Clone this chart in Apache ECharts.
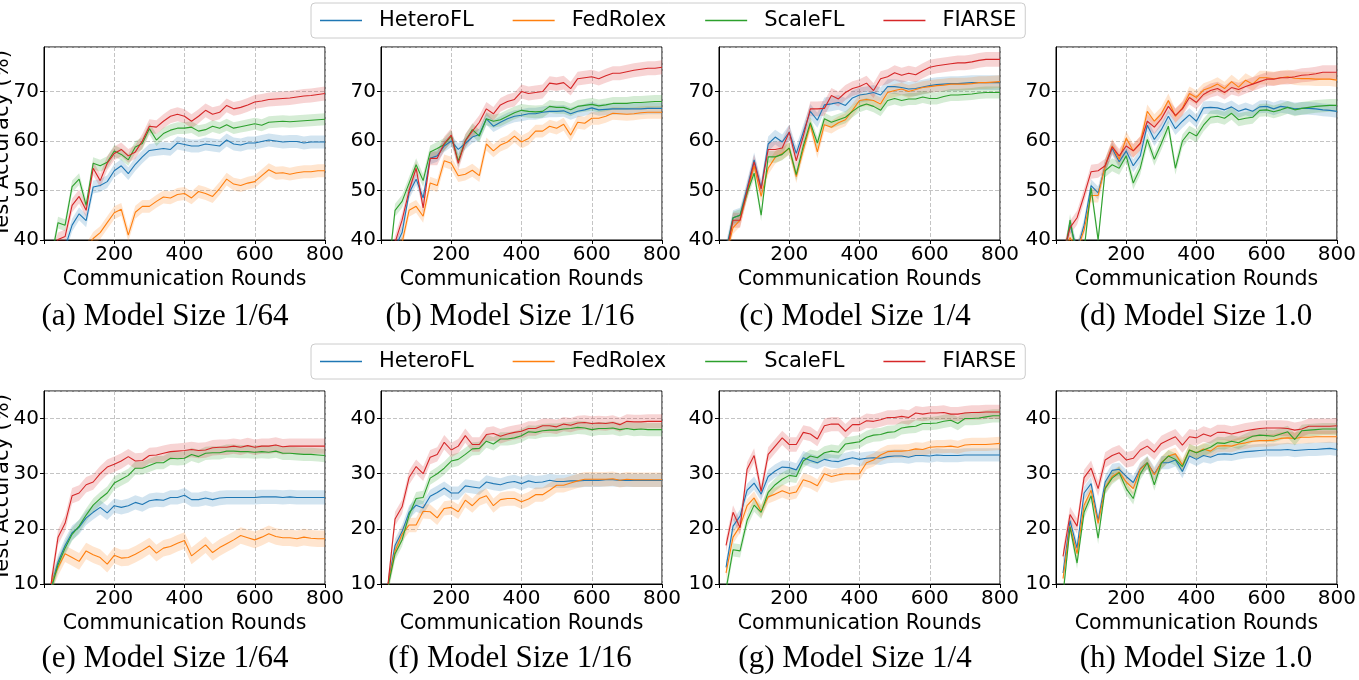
<!DOCTYPE html>
<html>
<head>
<meta charset="utf-8">
<script src="https://cdn.jsdelivr.net/npm/echarts@6/dist/echarts.min.js"></script>
<style>
  html, body { margin: 0; padding: 0; background: #fff; }
  #chart { width: 1359px; height: 680px; }
</style>
</head>
<body>
<div id="chart"></div>
<script>
// communication rounds on the x axis; 0 is the empty start of the axis
const rounds = [0, 20, 40, 60, 80, 100, 120, 140, 160, 180, 200, 220, 240, 260, 280, 300, 320, 340, 360, 380, 400,
  420, 440, 460, 480, 500, 520, 540, 560, 580, 600, 620, 640, 660, 680, 700, 720, 740, 760, 780, 800]
const methods = ['HeteroFL', 'FedRolex', 'ScaleFL', 'FIARSE']
const colors = ['#1f77b4', '#ff7f0e', '#2ca02c', '#d62728']

// values at rounds 20..800, top row (y 40..79)
const heteroA = [35, 37, 38.5, 43, 45.3, 43.9, 50.7, 51, 51.8, 54, 55, 53.4, 55.3, 56.8, 58.1, 58.3, 58.5, 58.3, 59.6, 59.3, 59, 59, 59.4, 59.2, 59, 60.2, 59.4, 59.2, 59.6, 59.6, 59.9, 60.2, 60, 59.8, 59.9, 59.9, 59.6, 59.8, 59.8, 59.8]
const rolexA = [30, 32, 34, 35, 36.5, 38, 40.3, 41.5, 43.5, 45.5, 46.2, 41, 45.6, 46.8, 46.8, 47.8, 48.7, 48.5, 49.2, 49.4, 48.5, 49.8, 49.4, 48.8, 50.4, 52.3, 51.3, 51, 51.5, 51.8, 53, 54.2, 53.5, 53.6, 53.3, 53.6, 53.8, 53.8, 54, 54]
const scaleA = [36, 43.5, 43, 50.8, 52.3, 47, 55.5, 55, 55.7, 58, 57.3, 56.2, 58.8, 59.5, 62.5, 60.2, 61.5, 62.2, 62.6, 62.6, 62.8, 62, 62.3, 63, 62.6, 63.3, 62.6, 62.9, 63.2, 63.5, 63.2, 63.8, 63.9, 64, 63.9, 64, 64.1, 64.2, 64.3, 64.4]
const fiarseA = [36, 40.1, 40.7, 47, 48.8, 46, 54.5, 52, 55.5, 57.5, 58.3, 57, 57.8, 60, 63, 62.8, 64, 65, 65.4, 65, 64, 65, 66.2, 65.4, 65.8, 67.2, 66.5, 66.8, 67.3, 67.9, 68.1, 68.4, 68.5, 68.6, 68.7, 68.9, 69.1, 69.2, 69.4, 69.6]

const heteroB = [35, 38.5, 41.5, 49.5, 52.3, 48.5, 56.5, 57, 59, 60, 58.3, 59.5, 60.8, 61.3, 64.5, 63, 63.8, 64.5, 65, 65.2, 65.5, 65.5, 65.8, 66, 66, 66.1, 65.5, 66, 66.3, 66.7, 66.3, 66.4, 66.5, 66.5, 66.5, 66.5, 66.5, 66.6, 66.6, 66.6]
const rolexB = [33, 37, 39.5, 46, 46.8, 44.8, 51.5, 51, 56, 55.5, 53, 53.3, 54.1, 53, 59.4, 58, 59.2, 59.8, 61, 59.8, 60.5, 62, 62, 63, 62.6, 63.4, 61.2, 63.8, 63.6, 64.6, 64.6, 65, 65.6, 65.5, 65.4, 65.5, 65.7, 65.8, 65.8, 65.8]
const scaleB = [33, 46, 47.8, 51.5, 55.2, 52, 57.8, 58.5, 59.3, 61, 56, 60, 62.3, 61, 64.5, 64, 64.3, 65, 65.7, 66.2, 66, 65.9, 66, 67, 66.8, 66.8, 66.3, 67, 67.2, 67.4, 67.1, 67.3, 67.6, 67.6, 67.6, 67.8, 67.8, 67.9, 68, 68]
const fiarseB = [34, 39.5, 44, 50, 54.5, 46.5, 56.5, 56.5, 59.5, 61.2, 55.5, 60, 62, 63.8, 66.5, 65.5, 67.3, 68, 68.4, 70, 69.6, 69.8, 70, 71.7, 71.5, 71.8, 70.6, 72.6, 72.8, 73, 72.6, 73.2, 73.7, 73.7, 74, 74.3, 74.5, 74.7, 74.7, 74.9]

const heteroC = [38, 44.5, 45, 50.5, 56.2, 50.5, 59.4, 60.8, 59.8, 61.8, 57.5, 61.8, 66, 64.2, 67.3, 67.5, 67.8, 67.2, 68.7, 69.3, 69.5, 69.8, 69.3, 71, 71, 70.8, 70.5, 70.6, 70.9, 71.2, 71.4, 71.5, 71.6, 71.6, 71.7, 71.8, 71.8, 71.8, 71.8, 71.8]
const rolexC = [37, 42.5, 44, 49.5, 55, 48.8, 54.5, 56.7, 57.5, 58.5, 52.8, 58.2, 63.3, 57.8, 63.3, 62.8, 63.7, 64.3, 66.2, 68.2, 68.4, 68.2, 67.5, 69.8, 70.2, 70.5, 70, 70.4, 70.8, 71, 71.2, 71.3, 71.5, 71.5, 71.5, 71.6, 71.8, 71.8, 71.9, 72]
const scaleC = [37, 44.5, 45, 49.5, 53.5, 45, 56.8, 56.8, 57.3, 58.6, 53.2, 59, 63.7, 59.6, 64.5, 63.8, 64.3, 64.8, 66, 67, 67.5, 67, 66.2, 68.2, 68.6, 68.2, 68.5, 68.5, 68.9, 68.6, 68.6, 69, 69.3, 69.3, 69.4, 69.5, 69.7, 69.8, 69.8, 69.8]
const fiarseC = [37, 44, 44, 50, 55.8, 50.3, 58.3, 58.3, 58.6, 61.8, 56, 61, 66.5, 66.5, 66.6, 69.2, 68.5, 69.8, 70.6, 71, 71.7, 70.2, 72.6, 73, 73.8, 73.3, 73.7, 73.4, 74.2, 74.9, 75.2, 75.4, 75.6, 75.8, 75.8, 76, 76.3, 76.5, 76.5, 76.5]

const heteroD = [36, 43, 38, 43, 51, 49.5, 55, 58.5, 55.8, 58, 55, 57, 63.2, 60.3, 62.3, 65, 62.5, 64, 65.3, 64, 66.7, 66.8, 66.7, 66.3, 66.9, 66, 66.5, 66, 66.9, 67, 66.5, 67, 66.8, 66.5, 66.6, 66.6, 66.5, 66.3, 66.2, 66]
const rolexD = [36, 40.5, 38, 42, 49, 49, 55, 59, 56.3, 60.6, 58, 59.6, 66, 64, 65.5, 68.2, 65, 66.7, 69.6, 68.8, 70.3, 70.8, 71.5, 70.6, 72, 70.9, 72.3, 71.5, 72.8, 72.8, 72.6, 72.8, 73, 72.7, 72.6, 72.6, 72.5, 72.5, 72.5, 72.3]
const scaleD = [35, 44, 36.5, 38, 50.5, 40, 54, 55.2, 54.5, 57, 51.5, 54.5, 60.3, 56.3, 59.5, 63, 54.5, 60, 61.8, 61, 63.2, 64.8, 65, 64.6, 65.6, 64.3, 64.6, 64.8, 66.2, 66.3, 65.9, 66.3, 66.8, 66.3, 66.6, 66.8, 67, 67.1, 67.2, 67.2]
const fiarseD = [37, 42.5, 44.5, 49, 53.8, 54, 55, 58.8, 57, 59, 58, 59.5, 64, 62.8, 64.5, 67, 65.2, 66.5, 68.8, 67.8, 69.4, 70.2, 70.6, 69.8, 70.8, 70.4, 71, 71.5, 72, 72.5, 72.5, 72.8, 72.8, 73, 73.3, 73.4, 73.6, 73.9, 73.9, 73.9]

// bottom row (y 10..45)
const heteroE = [9.5, 14, 17, 19.3, 20.3, 22, 23, 23.9, 22.9, 24.2, 23.9, 24.2, 24.8, 24.4, 25.1, 25.3, 25.2, 25.7, 25.7, 26.1, 25.3, 25.3, 25.6, 25.3, 25.6, 25.7, 25.7, 25.7, 25.7, 25.7, 25.8, 25.8, 25.8, 25.7, 25.8, 25.7, 25.7, 25.7, 25.7, 25.7]
const rolexE = [10, 13, 15.5, 14.8, 14.1, 16, 15.3, 14.8, 13.6, 15.2, 14.7, 14.8, 15.4, 16.1, 16.9, 15.6, 16.5, 16.8, 17.4, 17.9, 15.1, 16.1, 17.1, 15.7, 16.6, 17.3, 18, 18.8, 18.4, 18, 18.5, 19.1, 18.6, 18.4, 18.4, 18.2, 18.5, 18.3, 18.2, 18.2]
const scaleE = [9, 13.5, 16.5, 19, 20.5, 22.5, 24.3, 25.5, 26.5, 28.3, 29, 29.7, 31, 31, 31.5, 32, 32, 32.8, 32.7, 32.8, 33.5, 33.1, 33.7, 33.8, 33.8, 34.1, 34.1, 34, 34, 33.9, 34, 33.9, 34.1, 33.7, 33.7, 33.6, 33.5, 33.5, 33.4, 33.3]
const fiarseE = [10, 18.5, 21, 26, 26.5, 28, 28.5, 30, 31.2, 31.7, 32.3, 33.1, 32.3, 32.4, 33.3, 33.4, 33.7, 34, 34.1, 34.2, 34.4, 34.2, 34.3, 34.7, 34.8, 34.8, 35, 34.8, 35.1, 34.8, 35, 35, 35.2, 34.9, 35, 35, 35, 35, 35, 35]

const heteroF = [10, 17, 19.5, 23, 24.3, 23.8, 25.9, 26.6, 27.4, 26.5, 26.5, 27.8, 27.6, 27.4, 28.5, 28.2, 28, 28.4, 28.6, 28.2, 28.7, 28.4, 28.5, 28.8, 28.6, 28.6, 28.7, 28.7, 28.8, 28.8, 28.8, 28.9, 28.9, 28.8, 28.8, 28.8, 28.8, 28.8, 28.8, 28.8]
const rolexF = [10, 16, 19, 20.7, 20.7, 23.2, 23.1, 22, 23.7, 23.9, 23.1, 25.2, 24.2, 25.5, 26, 24.2, 25.3, 25.5, 25.5, 24.9, 25.4, 26.2, 26.2, 27, 27.9, 27.9, 28.3, 28.7, 29, 29, 29, 29, 29.1, 28.8, 29, 28.9, 28.9, 28.9, 28.9, 28.9]
const scaleF = [9.5, 15.5, 18, 22.5, 25.5, 25.7, 29.2, 30, 31, 32.3, 32.6, 33.5, 34.5, 34.6, 35.9, 35.4, 36.3, 36.3, 36.5, 36.9, 37.6, 37.5, 37.8, 37.9, 37.9, 38.1, 38.2, 38.4, 38.3, 38, 38.2, 38.2, 38.3, 38, 38.2, 38, 38.1, 38, 38, 38]
const fiarseF = [10, 21.8, 24, 29.3, 31.3, 30, 33, 33.5, 35.7, 34.3, 35, 36.9, 35.3, 35.3, 37.1, 37.3, 36.8, 37.2, 37.5, 37.7, 38.2, 38.2, 38.7, 38.7, 38.5, 39, 38.8, 39.2, 39.3, 39.1, 39.2, 39.1, 39.3, 38.9, 39.5, 39.4, 39.4, 39.5, 39.5, 39.5]

const heteroG = [13, 20.5, 22.3, 27, 28.3, 26.3, 29.5, 30.5, 31.2, 31.1, 30.7, 32.9, 32.4, 32, 32.6, 32.3, 32.2, 32.6, 32.9, 32.6, 32.8, 32.9, 32.8, 33.1, 33.2, 33.2, 33, 33.3, 33.3, 33.2, 33.4, 33.3, 33.3, 33.3, 33.4, 33.4, 33.4, 33.4, 33.4, 33.4]
const rolexG = [12, 18.5, 20.5, 24.2, 25.6, 23.2, 25.8, 26.3, 26.9, 26.4, 26.7, 28.9, 28.5, 27.8, 30, 29.5, 29.8, 30, 30, 30, 32, 32.5, 33.4, 34, 34.1, 34.1, 34.2, 34.5, 34.4, 34.8, 34.9, 34.9, 35, 34.8, 35.2, 35.3, 35.3, 35.3, 35.4, 35.5]
const scaleG = [9, 16.2, 16, 21.5, 24.3, 23, 26.6, 28, 29, 29.7, 29.5, 32.3, 33.2, 32.9, 33.8, 34.1, 33.9, 35.4, 35.6, 35.8, 36.6, 37, 37.1, 37.5, 37.6, 38.3, 38.5, 38.6, 39.1, 39.1, 39.2, 39.5, 39.7, 39.1, 40, 40, 40.1, 40.3, 40.5, 40.5]
const fiarseG = [17, 23, 20.2, 30.8, 33.3, 26.8, 33.5, 35, 36.5, 35.3, 35.3, 37.5, 37.2, 36.3, 38.7, 39, 39, 37.7, 38.9, 38.9, 39.6, 39.5, 39.8, 40.2, 40.2, 40.4, 40.2, 41, 40.8, 41, 41, 41.1, 40.8, 40.8, 41, 41.1, 41.1, 41.2, 41.2, 41.2]

const heteroH = [12, 21.5, 16.5, 26.5, 28.2, 21.5, 28.5, 30.6, 30.8, 29.5, 28.4, 30.9, 32, 30, 32, 32, 32.5, 30.4, 33.2, 32.6, 33.3, 33, 33.5, 33.6, 33.5, 33.8, 34, 34.1, 34.2, 34.3, 34.3, 34.3, 34.4, 34.2, 34.3, 34.4, 34.4, 34.5, 34.6, 34.4]
const rolexH = [11, 20.5, 15.5, 24.3, 27, 21, 27.5, 29.5, 30.3, 28.5, 27.3, 30.8, 32, 29.8, 32, 33.2, 33.6, 31.6, 34.3, 33.8, 34.5, 34.1, 35, 35.1, 35, 35.4, 35.6, 35.9, 36, 36, 36.1, 36.4, 36.5, 36.4, 36.6, 36.6, 36.7, 36.7, 36.7, 36.7]
const scaleH = [8, 20.3, 13.8, 23, 26, 18.3, 27.3, 29.2, 30.2, 27.3, 25.5, 30, 32, 28, 31.9, 33.2, 32.6, 31.3, 34.3, 33.8, 34.3, 34.8, 35.6, 35.5, 35.9, 35.6, 36.2, 36.8, 37, 36.9, 36.8, 37.2, 37.6, 36.2, 37.8, 37.9, 38, 38.1, 38.1, 38.1]
const fiarseH = [15, 22.6, 20.5, 29.3, 31, 27.3, 32.5, 33.3, 33.8, 32.5, 32.8, 34.3, 35, 33.9, 35.5, 36.1, 36.7, 35.2, 36.7, 36.5, 37.2, 36.8, 37.5, 37.5, 37.2, 37.5, 37.8, 38, 38.2, 38.3, 38.3, 38.3, 38.2, 37.9, 38.1, 38.6, 38.6, 38.6, 38.6, 38.7]

// half width of the shaded band, per method (HeteroFL, FedRolex, ScaleFL, FIARSE)
const bandA = [1.3, 1.3, 1.2, 1.4]
const bandB = [1.2, 1.3, 1.3, 1.4]
const bandC = [1.5, 1.3, 1.2, 1.5]
const bandD = [1.3, 1.4, 1.3, 1.4]
const bandE = [1.3, 1.5, 1.2, 1.4]
const bandF = [1.2, 1.3, 1.2, 1.3]
const bandG = [1.2, 1.2, 1.2, 1.3]
const bandH = [1.2, 1.1, 1.1, 1.4]

const captions = ['(a) Model Size 1/64', '(b) Model Size 1/16', '(c) Model Size 1/4', '(d) Model Size 1.0',
  '(e) Model Size 1/64', '(f) Model Size 1/16', '(g) Model Size 1/4', '(h) Model Size 1.0']
const yTicksTop = [40, 79, 10]
const yTicksBottom = [10, 45, 10]

const panels = [
  { values: [heteroA, rolexA, scaleA, fiarseA], band: bandA, y: yTicksTop },
  { values: [heteroB, rolexB, scaleB, fiarseB], band: bandB, y: yTicksTop },
  { values: [heteroC, rolexC, scaleC, fiarseC], band: bandC, y: yTicksTop },
  { values: [heteroD, rolexD, scaleD, fiarseD], band: bandD, y: yTicksTop },
  { values: [heteroE, rolexE, scaleE, fiarseE], band: bandE, y: yTicksBottom },
  { values: [heteroF, rolexF, scaleF, fiarseF], band: bandF, y: yTicksBottom },
  { values: [heteroG, rolexG, scaleG, fiarseG], band: bandG, y: yTicksBottom },
  { values: [heteroH, rolexH, scaleH, fiarseH], band: bandH, y: yTicksBottom }
]

// layout
const gridLeft = [44, 381, 719, 1056]
const gridTop = [47, 391]
const gridW = 281
const gridH = 193
const captionX = [165, 510, 855, 1196]
const captionTop = [301, 643]
const legendTop = [3, 344]

const font = 'DejaVu Sans'
const gridLine = { show: true, interval: 9, lineStyle: { color: '#b5b5b5', type: [4, 2], width: 0.8 } }
const chart = echarts.init(document.getElementById('chart'), null, { renderer: 'canvas' })

const grids = [], xAxes = [], yAxes = [], series = [], titles = []
panels.forEach((p, i) => {
  const col = i % 4, row = Math.floor(i / 4)
  grids.push({ left: gridLeft[col], top: gridTop[row], width: gridW, height: gridH,
    show: true, borderColor: '#000', borderWidth: 1, backgroundColor: 'transparent' })
  xAxes.push({
    gridIndex: i, type: 'category', data: rounds.map(String), boundaryGap: false,
    name: 'Communication Rounds', nameLocation: 'middle', nameGap: 29,
    nameTextStyle: { fontFamily: font, fontSize: 20.5, color: '#000' },
    axisLine: { show: true, onZero: false, lineStyle: { color: '#000', width: 1 } },
    axisTick: { show: true, interval: 9, length: 4, lineStyle: { color: '#000' } },
    axisLabel: { interval: 9, formatter: v => (v === '0' ? '' : v), fontFamily: font, fontSize: 20, color: '#000', margin: 5 },
    splitLine: gridLine
  })
  yAxes.push({
    gridIndex: i, type: 'value', min: p.y[0], max: p.y[1], interval: p.y[2],
    axisLine: { show: true, onZero: false, lineStyle: { color: '#000', width: 1 } },
    axisTick: { show: true, length: 4, lineStyle: { color: '#000' } },
    axisLabel: { showMaxLabel: false, fontFamily: font, fontSize: 20, color: '#000', margin: 5 },
    splitLine: { show: true, lineStyle: gridLine.lineStyle }
  })
  titles.push({ text: captions[i], left: captionX[col], top: captionTop[row], textAlign: 'center', padding: 0,
    textStyle: { fontFamily: 'Liberation Serif', fontSize: 31, fontWeight: 'normal', color: '#000' } })

  p.values.forEach((vals, m) => {
    const half = p.band[m]
    const stackId = 'band' + i + '_' + m
    // round 0 has no value
    series.push({
      type: 'line', xAxisIndex: i, yAxisIndex: i, stack: stackId, silent: true, symbol: 'none',
      data: [null].concat(vals.map(v => v - half)),
      lineStyle: { opacity: 0 }, z: 1
    })
    series.push({
      type: 'line', xAxisIndex: i, yAxisIndex: i, stack: stackId, silent: true, symbol: 'none',
      data: [null].concat(vals.map(() => 2 * half)),
      lineStyle: { opacity: 0 }, areaStyle: { color: colors[m], opacity: 0.2 }, z: 1
    })
    series.push({
      type: 'line', name: methods[m], xAxisIndex: i, yAxisIndex: i, symbol: 'none',
      data: [null].concat(vals),
      itemStyle: { color: colors[m] },
      lineStyle: { color: colors[m], width: 1.1 }, z: 3
    })
  })
})

// y-axis title of the left column, partly cut by the page edge as in the source figure
const yTitles = gridTop.map(t => ({
  type: 'text', x: 3, y: t + gridH / 2, rotation: Math.PI / 2,
  style: { text: 'Test Accuracy (%)', fontFamily: font, fontSize: 21, fill: '#000', align: 'center', verticalAlign: 'middle' }
}))

const legends = legendTop.map(t => ({
  top: t, left: 311, orient: 'horizontal', data: methods, icon: 'rect',
  itemWidth: 42, itemHeight: 1.5, itemGap: 39, selectedMode: false,
  padding: [7, 9], borderColor: '#cccccc', borderWidth: 1, borderRadius: 4, backgroundColor: '#fff',
  textStyle: { fontFamily: font, fontSize: 21, color: '#000', padding: [0, 0, 0, 12] }
}))

const option = {
  animation: false,
  backgroundColor: '#fff',
  title: titles,
  legend: legends,
  grid: grids,
  xAxis: xAxes,
  yAxis: yAxes,
  graphic: yTitles,
  series: series
}

option && chart.setOption(option)
</script>
</body>
</html>
